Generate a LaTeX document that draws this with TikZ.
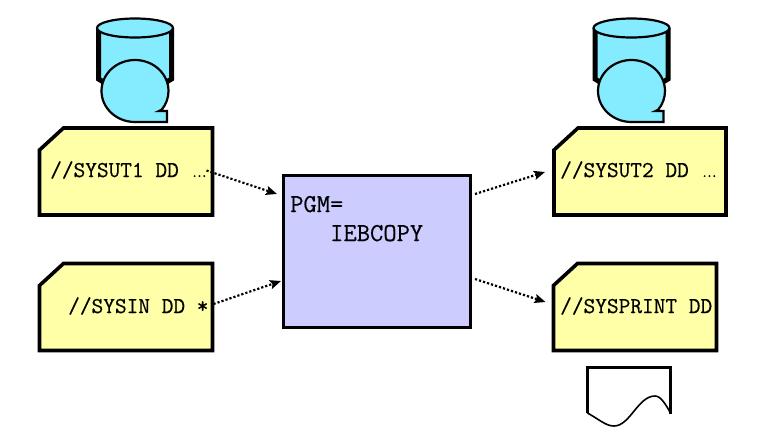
\documentclass[tikz,border=0pt]{standalone}
\usepackage{fontspec}
\newfontfamily\ddfont{Latin Modern Mono}[FakeBold=0.45]
\usepackage{tikz}
\usetikzlibrary{arrows.meta}
\definecolor{cardyellow}{HTML}{FFFFA8}
\definecolor{pgmblue}{HTML}{CCCCFF}
\definecolor{diskcyan}{HTML}{85EBFF}
\newcommand{\cardedge}[1]{%
  \draw[cardline] ([xshift=24pt]#1.north west) -- (#1.north east) -- (#1.south east)
    -- (#1.south west) -- ([yshift=-22pt]#1.north west) -- cycle;}
\newcommand{\narrowdots}{{\fontsize{16}{16}\selectfont.\kern-3.4pt.\kern-3.4pt.}}
\tikzset{
  card/.style={rectangle, inner sep=0pt, outer sep=0pt},
  cardline/.style={draw=black, line width=3.6pt, fill=cardyellow, line join=miter},
  pgm/.style={rectangle, draw=black, line width=3.8pt, fill=pgmblue, inner sep=0pt, outer sep=0pt,
    minimum width=187pt, minimum height=152pt},
  ddtext/.style={font=\fontsize{22.7}{24}\ddfont, text=black, inner sep=0pt, anchor=base west},
  pgmtext/.style={font=\fontsize{25.8}{28}\ddfont, text=black, inner sep=0pt, anchor=base west},
  flow/.style={line width=2.2pt, dash pattern=on 2.2pt off 2pt, -{Stealth[length=11pt,width=9pt,inset=2pt]}},
  pics/disk/.style={code={
    \fill[diskcyan] (-38,28) -- (-38,80) -- (38,80) -- (38,28) -- cycle;
    \draw[line width=5pt] (-36.5,28) -- (-36.5,79) -- (-30,83);
    \draw[line width=5pt] (36.5,28) -- (36.5,79) -- (30,83);
    \draw[line width=2.2pt, fill=diskcyan] (0,28) ellipse [x radius=38, y radius=9.5];
    \draw[line width=2.2pt, fill=diskcyan] (24,111) -- (32,111) -- (32,122) -- (0,122)
      arc[start angle=90, end angle=397, x radius=33.5, y radius=31] -- cycle;
  }}
}
\begin{document}
\begin{tikzpicture}[x=1pt,y=-1pt]
\useasboundingbox (0,0) rectangle (764,440);

% disks
\pic at (135,0) {disk};
\pic at (631.5,0) {disk};

% DD cards
\node[card, minimum width=173pt, minimum height=87pt] (sysut1) at (126,171.5) {};
\node[card, minimum width=173pt, minimum height=87pt] (sysin) at (126,307) {};
\node[card, minimum width=172pt, minimum height=87pt] (sysut2) at (640,171.5) {};
\node[card, minimum width=163pt, minimum height=87pt] (sysprint) at (635,307) {};
\cardedge{sysut1}
\cardedge{sysin}
\cardedge{sysut2}
\cardedge{sysprint}

\node[ddtext] (t1) at (50,177) {//SYSUT1 DD \narrowdots};
\node[ddtext] (t2) at (68,313) {//SYSIN DD *};
\node[ddtext] (t3) at (560,177) {//SYSUT2 DD \narrowdots};
\node[ddtext] (t4) at (560,313) {//SYSPRINT DD};

% program box
\node[pgm] (prog) at (377,251.5) {};
\node[pgmtext] (p1) at (290,212) {PGM=};
\node[pgmtext] (p2) at (330,241) {IEBCOPY};

% connectors
\coordinate (in1) at (277,194);
\coordinate (in2) at (281,281);
\coordinate (out1) at (475,194);
\coordinate (out2) at (475,279);
\draw[flow] ([shift={(-6,-1)}]sysut1.east) -- (in1);
\draw[flow] ([shift={(1,-3)}]sysin.east) -- (in2);
\draw[flow] (out1) -- ([shift={(-9,0.5)}]sysut2.west);
\draw[flow] (out2) -- ([shift={(-8,-5)}]sysprint.west);

% printed output
\draw[line width=3.4pt] (587.5,413) -- (587.5,367.5) -- (670.5,367.5) -- (670.5,414);
\draw[line width=1.6pt] (587.5,413) .. controls (600,420) and (606,426) .. (614,426)
  .. controls (630,426) and (638,396) .. (655,396) .. controls (661,396) and (666,405) .. (670.5,413);
\end{tikzpicture}
\end{document}
